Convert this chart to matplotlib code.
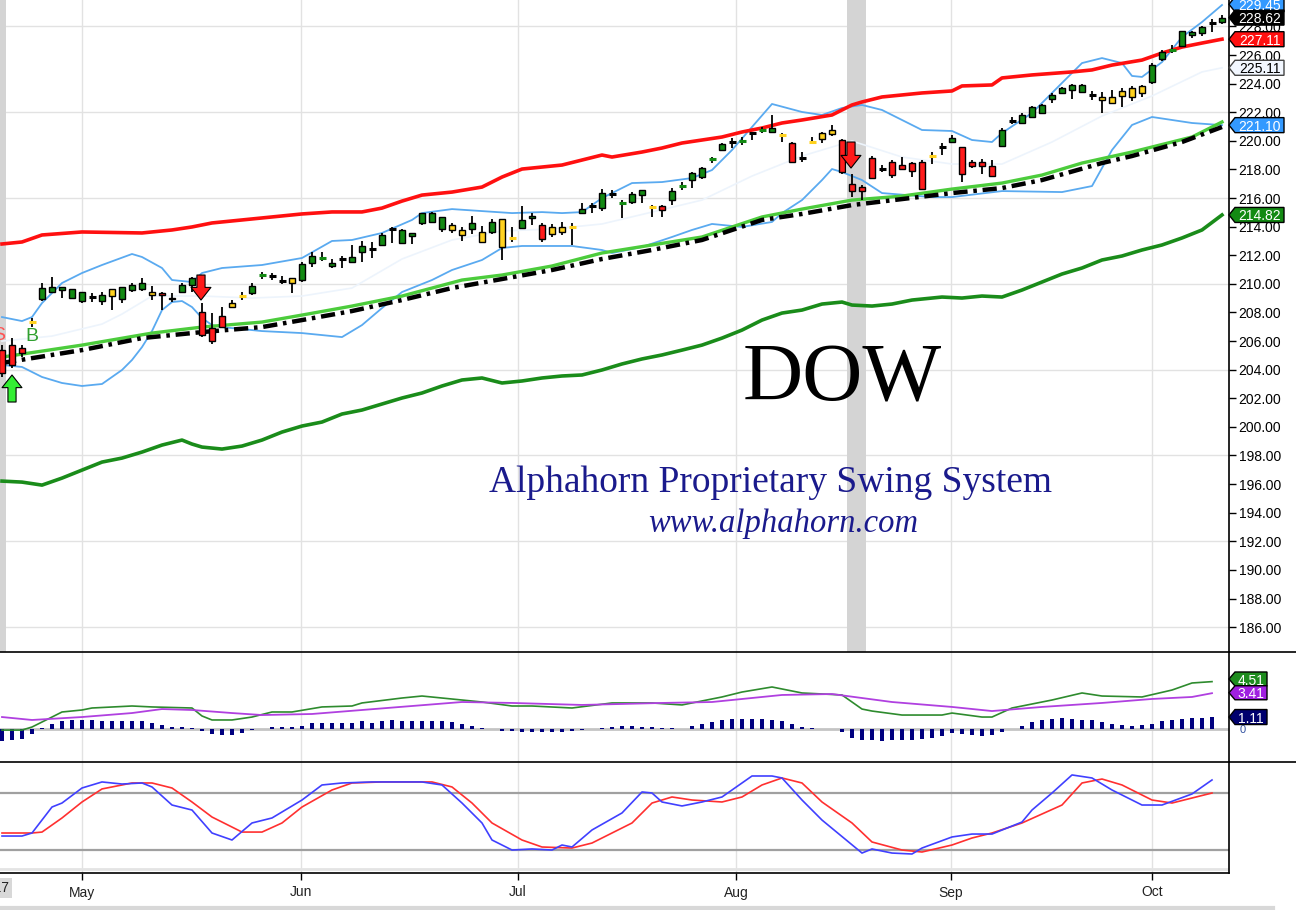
import matplotlib
matplotlib.use("Agg")
import matplotlib.pyplot as plt
import numpy as np
from matplotlib.patches import Rectangle, Polygon
from matplotlib.lines import Line2D
from matplotlib.transforms import blended_transform_factory

plt.rcParams["font.family"] = ["Liberation Sans", "DejaVu Sans"]

# ----------------------------------------------------------------------------
# Price bars (one per trading day, index 0 .. 122)

opens = [205.37, 205.72, 205.51, 207.30, 208.94, 209.43, 209.57, 209.01, 208.80, 209.08,
         208.80, 209.15, 208.94, 209.57, 209.64, 209.22, 209.36, 209.01, 209.43, 209.92,
         208.03, 206.91, 207.75, 208.38, 209.13, 209.36, 210.60, 210.55, 210.20, 210.06,
         210.27, 211.46, 211.79, 211.25, 211.72, 211.53, 212.23, 212.40, 212.72, 213.83,
         212.86, 213.35, 214.26, 214.33, 213.84, 213.77, 213.42, 213.84, 212.93, 213.63,
         212.58, 213.20, 213.91, 214.61, 214.12, 213.49, 213.63, 213.96, 214.96, 215.42,
         215.30, 216.27, 215.65, 215.72, 216.21, 215.35, 215.44, 215.86, 216.82, 217.26,
         217.47, 218.71, 219.36, 219.90, 219.97, 220.53, 220.74, 220.62, 220.39, 219.85,
         218.78, 219.90, 220.13, 220.48, 220.06, 216.98, 216.77, 218.80, 218.01, 218.52,
         218.31, 218.45, 218.52, 218.92, 219.55, 219.92, 219.57, 218.52, 218.52, 218.24,
         219.64, 221.37, 221.25, 221.67, 221.95, 222.93, 223.35, 223.56, 223.42, 223.19,
         222.86, 222.65, 223.14, 223.07, 223.35, 224.12, 225.72, 226.33, 226.63, 227.40,
         227.54, 228.22, 228.31]
highs = [205.72, 206.21, 205.72, 207.61, 210.06, 210.48, 209.80, 209.66, 209.45, 209.36,
         209.43, 209.66, 209.80, 210.06, 210.41, 209.85, 209.43, 209.36, 210.06, 210.48,
         208.66, 207.96, 208.38, 208.87, 209.43, 210.06, 210.83, 210.76, 210.55, 210.43,
         211.53, 212.23, 212.23, 211.74, 211.95, 212.72, 213.00, 212.93, 213.56, 213.98,
         213.84, 213.58, 214.98, 215.03, 214.70, 214.26, 213.98, 214.75, 214.05, 214.54,
         214.56, 213.98, 215.44, 214.96, 214.26, 214.19, 214.33, 214.26, 215.65, 215.65,
         216.63, 216.56, 215.86, 216.42, 216.58, 215.51, 215.51, 216.70, 217.12, 217.82,
         218.17, 218.87, 219.85, 220.20, 220.27, 220.62, 220.97, 221.81, 220.55, 219.92,
         219.22, 220.27, 220.62, 221.11, 220.13, 217.68, 216.91, 218.94, 218.31, 218.66,
         218.87, 218.52, 218.66, 219.22, 219.85, 220.41, 219.60, 218.66, 218.73, 218.66,
         220.90, 221.67, 221.95, 222.44, 222.58, 223.35, 223.77, 223.98, 223.98, 223.49,
         223.42, 223.56, 223.70, 223.84, 223.91, 225.44, 226.35, 226.70, 227.70, 227.68,
         228.03, 228.52, 228.80]
lows = [203.49, 204.12, 204.88, 206.98, 208.80, 209.36, 209.01, 208.94, 208.66, 208.73,
        208.52, 208.17, 208.66, 209.43, 209.50, 208.87, 208.17, 208.73, 209.36, 209.43,
        206.28, 205.79, 206.96, 208.36, 208.87, 209.22, 210.34, 210.27, 210.00, 209.36,
        210.13, 211.18, 211.60, 211.11, 211.11, 211.46, 211.53, 211.81, 212.70, 212.86,
        212.79, 212.79, 214.12, 214.26, 213.63, 213.56, 213.00, 213.49, 212.86, 213.49,
        211.67, 212.93, 213.84, 214.12, 212.93, 213.28, 213.42, 212.72, 214.94, 214.96,
        215.10, 216.00, 214.61, 215.58, 215.65, 214.68, 214.68, 215.51, 216.56, 216.70,
        217.33, 218.45, 219.29, 219.50, 219.71, 220.06, 220.55, 220.55, 219.92, 218.45,
        218.52, 219.85, 219.85, 220.34, 217.68, 216.07, 215.86, 217.33, 217.82, 217.40,
        217.96, 217.47, 216.56, 218.38, 219.01, 219.85, 217.12, 218.10, 217.68, 217.47,
        219.57, 221.18, 221.18, 221.60, 221.88, 222.65, 223.28, 222.93, 223.35, 222.86,
        221.95, 222.58, 222.37, 222.79, 223.07, 223.98, 225.58, 226.14, 226.56, 227.19,
        227.33, 227.61, 228.17]
closes = [203.77, 204.33, 205.16, 207.33, 209.71, 209.78, 209.78, 209.64, 209.43, 209.10,
          209.22, 209.64, 209.78, 209.92, 210.06, 209.43, 209.22, 208.94, 209.92, 210.41,
          206.42, 206.00, 206.98, 208.66, 209.15, 209.85, 210.62, 210.57, 210.22, 210.41,
          211.39, 211.95, 211.81, 211.46, 211.74, 211.88, 212.65, 212.42, 213.42, 213.85,
          213.77, 213.56, 214.96, 214.96, 214.68, 214.12, 213.77, 214.26, 213.63, 214.33,
          214.54, 213.22, 214.47, 214.75, 213.14, 213.98, 213.98, 213.98, 215.24, 215.44,
          216.35, 216.29, 215.67, 216.28, 216.56, 215.37, 215.16, 216.49, 216.84, 217.75,
          218.10, 218.73, 219.78, 219.92, 219.99, 220.55, 220.76, 220.90, 220.41, 218.52,
          218.80, 219.92, 220.55, 220.76, 217.82, 216.49, 216.49, 217.40, 218.03, 217.61,
          218.03, 217.89, 216.63, 218.94, 219.57, 220.20, 217.68, 218.24, 218.24, 217.54,
          220.76, 221.39, 221.81, 222.37, 222.51, 223.21, 223.70, 223.91, 223.91, 223.21,
          223.07, 223.07, 223.49, 223.70, 223.84, 225.30, 226.21, 226.35, 227.68, 227.61,
          227.96, 228.24, 228.62]
# g = up, r = down, y = neutral, k = plain doji (ten bars per string)
bar_colors = "".join([
    "rrrygggggk", "gygggyrrgg", "rrryyggkky", "ggggkggkgk", "gggggyygyg",
    "yyggryyygk", "gkgggyrggg", "gggkgkggyr", "kyyyrrrrkr", "rrrykgrrrr",
    "gkgggggggk", "yyyyyggggg", "gkg"])

month_names = ["May", "Jun", "Jul", "Aug", "Sep", "Oct"]
month_pos = [8.0, 29.9, 51.6, 73.4, 94.9, 115.0]

# ----------------------------------------------------------------------------
# Overlay lines (bar index, price)

env_up_x = [0, 2, 4, 8, 14, 17, 19, 21, 24, 27, 30, 33, 36, 38, 40, 42, 45, 48, 50, 52,
            56, 58, 60, 61, 64, 66, 68, 70, 72, 74, 76, 78, 80, 83, 85, 86, 88, 92, 95, 96,
            99, 100, 103, 107, 109, 111, 114, 116, 118, 120, 122]
env_up = [212.79, 212.93, 213.42, 213.63, 213.56, 213.77, 213.98, 214.26, 214.47, 214.68,
          214.89, 215.03, 215.03, 215.30, 215.79, 216.21, 216.42, 216.77, 217.47, 218.03,
          218.31, 218.66, 219.01, 218.87, 219.22, 219.50, 219.85, 220.06, 220.27, 220.62,
          220.90, 221.25, 221.46, 221.81, 222.51, 222.72, 223.07, 223.35, 223.49, 223.84,
          223.91, 224.40, 224.61, 224.82, 224.96, 225.30, 225.65, 226.14, 226.56, 226.84, 227.11]

env_lo_x = [0, 2, 4, 6, 8, 10, 12, 14, 16, 18, 19, 20, 22, 24, 26, 28, 30, 32, 34, 36,
            38, 40, 42, 44, 46, 48, 50, 52, 54, 56, 58, 60, 62, 64, 66, 68, 70, 72, 74, 76,
            78, 80, 82, 84, 85, 87, 89, 91, 94, 96, 98, 100, 102, 104, 106, 108, 110, 112,
            114, 116, 118, 120, 122]
env_lo = [196.21, 196.14, 195.93, 196.42, 196.98, 197.54, 197.82, 198.24, 198.73, 199.08,
          198.80, 198.59, 198.45, 198.66, 199.08, 199.64, 200.06, 200.34, 200.90, 201.18,
          201.60, 202.02, 202.37, 202.86, 203.28, 203.42, 203.07, 203.21, 203.42, 203.56,
          203.63, 203.98, 204.40, 204.75, 205.03, 205.37, 205.72, 206.21, 206.77, 207.47,
          207.96, 208.17, 208.59, 208.73, 208.52, 208.45, 208.59, 208.87, 209.08, 209.01,
          209.15, 209.08, 209.57, 210.13, 210.69, 211.11, 211.67, 211.95, 212.37, 212.72,
          213.21, 213.77, 214.82]

sma_x = [0, 8, 15, 20, 26, 30, 35, 40, 46, 50, 55, 60, 65, 70, 76, 80, 85, 90, 95, 100,
         104, 108, 113, 115, 119, 122]
sma = [204.88, 205.72, 206.56, 206.98, 207.33, 207.82, 208.45, 209.15, 210.27, 210.62,
       211.25, 212.16, 212.72, 213.28, 214.68, 215.23, 215.86, 216.14, 216.63, 217.05,
       217.61, 218.45, 219.22, 219.57, 220.27, 221.32]

slow_x = [0, 8, 14, 20, 26, 30, 35, 40, 45, 50, 55, 60, 65, 70, 76, 80, 85, 90, 95, 100,
          104, 110, 113, 118, 122]
slow = [204.47, 205.37, 206.21, 206.63, 206.98, 207.47, 208.10, 208.87, 209.71, 210.34,
        210.97, 211.74, 212.37, 213.07, 214.47, 214.89, 215.51, 215.93, 216.35, 216.70,
        217.26, 218.45, 218.94, 219.92, 220.97]

bb_up_x = [0, 2, 3, 4, 6, 8, 10, 13, 14, 16, 17, 19, 20, 22, 26, 30, 33, 35, 38, 41,
           42, 45, 48, 51, 54, 56, 58, 60, 62, 63, 66, 69, 71, 73, 75, 77, 80, 82, 84, 86,
           88, 90, 92, 95, 97, 99, 100, 103, 106, 108, 110, 112, 113, 114, 116, 118, 120, 122]
bb_up = [207.68, 207.40, 207.68, 208.66, 210.06, 210.76, 211.32, 212.09, 211.88, 211.11,
         210.27, 210.13, 210.76, 211.11, 211.32, 211.81, 213.00, 213.07, 213.56, 214.47,
         214.95, 215.23, 215.09, 214.95, 215.02, 214.95, 215.02, 216.00, 216.70, 217.05,
         217.12, 217.40, 217.96, 219.36, 220.97, 222.58, 222.02, 221.81, 222.30, 222.51,
         222.16, 221.46, 220.76, 220.69, 220.06, 219.92, 220.55, 221.95, 224.05, 225.44,
         225.79, 225.44, 224.54, 224.47, 225.51, 227.26, 228.31, 229.50]

bb_lo_x = [0, 2, 4, 6, 8, 10, 11, 12, 13, 14, 15, 16, 17, 18, 19, 20, 21, 22, 26, 30,
           33, 34, 36, 38, 40, 43, 45, 48, 50, 52, 57, 60, 61, 64, 67, 69, 71, 74, 77, 78,
           80, 82, 83, 84, 86, 88, 93, 95, 100, 106, 109, 111, 113, 115, 117, 119, 122]
bb_lo = [204.33, 204.19, 203.49, 203.07, 202.86, 203.00, 203.49, 203.98, 204.68, 205.58,
         206.70, 208.17, 208.73, 208.80, 208.38, 207.61, 207.12, 206.98, 206.70, 206.56,
         206.35, 206.28, 207.12, 208.31, 209.43, 210.27, 210.97, 211.67, 212.51, 212.65,
         212.65, 212.37, 212.16, 212.58, 213.28, 213.77, 214.19, 213.98, 214.33, 214.95,
         215.86, 217.26, 218.03, 217.82, 217.26, 216.35, 216.07, 216.07, 216.49, 216.42,
         216.84, 219.36, 221.11, 221.67, 221.46, 221.25, 221.10]

bb_mid_x = [0, 5, 10, 12, 15, 20, 25, 30, 35, 40, 45, 50, 55, 60, 65, 70, 75, 80, 85, 90,
            95, 100, 105, 110, 115, 120, 122]
bb_mid = [206.00, 206.35, 207.19, 207.89, 209.15, 209.15, 209.01, 209.15, 209.71, 211.74,
          213.07, 213.70, 213.84, 214.19, 215.02, 215.86, 217.54, 218.94, 219.99, 218.87,
          218.38, 218.38, 219.92, 221.74, 223.14, 224.82, 225.11]

# ----------------------------------------------------------------------------
# MACD panel

macd_x = [0, 2, 3, 5, 6, 8, 9, 13, 15, 19, 20, 21, 23, 25, 27, 29, 32, 35, 36, 40,
          42, 44, 48, 51, 53, 57, 61, 65, 68, 72, 74, 77, 80, 84, 86, 87, 90, 94, 95, 98,
          99, 101, 105, 108, 110, 114, 117, 119, 121]
macd = [-0.10, -0.10, 0.19, 1.14, 1.62, 1.81, 2.00, 2.19, 2.10, 2.00,
        1.24, 0.86, 0.86, 1.14, 1.62, 1.62, 2.10, 2.19, 2.48, 2.95,
        3.14, 2.95, 2.57, 2.19, 2.19, 2.00, 2.48, 2.48, 2.29, 3.05,
        3.52, 4.00, 3.43, 3.24, 1.90, 1.71, 1.33, 1.33, 1.52, 1.14,
        1.14, 2.00, 2.76, 3.43, 3.14, 3.05, 3.71, 4.38, 4.51]
signal_x = [0, 3, 8, 13, 16, 19, 23, 26, 31, 36, 41, 46, 51, 58, 66, 71, 78, 83, 89, 95,
            99, 104, 110, 115, 119, 121]
signal = [1.14, 0.86, 1.14, 1.52, 1.90, 1.81, 1.52, 1.33, 1.43, 1.81,
          2.19, 2.57, 2.48, 2.29, 2.48, 2.57, 3.24, 3.33, 2.57, 2.10,
          1.71, 2.10, 2.48, 2.86, 3.05, 3.41]
hist = [-1.17, -1.02, -0.95, -0.48, 0.05, 0.48, 0.73, 0.83, 0.83, 0.83,
        0.73, 0.73, 0.73, 0.73, 0.73, 0.57, 0.41, 0.19, 0.19, 0.10,
        -0.22, -0.48, -0.60, -0.54, -0.38, -0.13, 0.00, 0.16, 0.16, 0.16,
        0.32, 0.57, 0.57, 0.57, 0.57, 0.57, 0.73, 0.57, 0.73, 0.83,
        0.73, 0.80, 0.80, 0.80, 0.75, 0.65, 0.50, 0.25, 0.05, 0.00,
        -0.15, -0.20, -0.25, -0.25, -0.28, -0.28, -0.25, -0.20, -0.10, 0.00,
        0.10, 0.20, 0.25, 0.25, 0.20, 0.15, 0.10, 0.05, 0.00, 0.25,
        0.44, 0.67, 0.83, 0.95, 1.00, 1.00, 1.00, 0.90, 0.76, 0.50,
        0.19, 0.10, 0.00, 0.00, -0.29, -0.83, -1.08, -1.08, -1.14, -1.08,
        -1.08, -1.00, -0.92, -0.83, -0.70, -0.38, -0.50, -0.60, -0.70, -0.60,
        -0.29, 0.00, 0.25, 0.67, 0.90, 1.00, 1.08, 1.00, 0.90, 0.83,
        0.67, 0.44, 0.40, 0.25, 0.35, 0.50, 0.73, 0.86, 0.95, 1.02,
        1.06, 1.11]

# ----------------------------------------------------------------------------
# Stochastic panel

stk_x = [0, 2, 3, 5, 6, 8, 10, 12, 14, 15, 17, 19, 21, 23, 25, 27, 30, 32, 34, 37,
         42, 44, 46, 48, 49, 51, 53, 55, 56, 57, 59, 62, 64, 65, 66, 68, 70, 72, 75, 77,
         78, 80, 82, 86, 87, 89, 91, 92, 95, 97, 99, 102, 103, 105, 107, 109, 111, 114, 116, 119,
         121]
stk_k = [34.8, 34.8, 38.0, 65.5, 69.7, 85.6, 92.0, 89.8, 90.9, 86.7,
         67.6, 62.3, 38.0, 30.6, 48.6, 53.9, 72.9, 88.8, 90.9, 92.0,
         92.0, 88.8, 69.7, 48.6, 30.6, 20.0, 21.1, 20.0, 25.3, 23.2,
         41.2, 59.2, 81.4, 80.3, 70.8, 66.6, 70.8, 76.1, 98.3, 98.3,
         96.2, 72.9, 51.7, 16.8, 21.1, 16.8, 15.8, 22.1, 33.8, 36.9,
         36.9, 49.6, 62.3, 80.3, 99.4, 96.2, 83.5, 67.6, 67.6, 79.3,
         94.1]
stk_d_x = [0, 3, 4, 6, 8, 10, 13, 15, 17, 19, 21, 24, 26, 28, 30, 33, 35, 38, 43, 45,
           47, 49, 52, 54, 57, 59, 63, 65, 67, 69, 72, 74, 76, 78, 80, 82, 85, 87, 90, 92,
           95, 97, 99, 102, 106, 108, 110, 112, 115, 117, 119, 121]
stk_d = [38.0, 38.0, 39.0, 53.9, 70.8, 84.6, 90.9, 90.9, 85.6, 70.8,
         54.9, 39.0, 39.0, 48.6, 65.5, 83.5, 90.9, 92.0, 92.0, 86.7,
         69.7, 48.6, 30.6, 23.2, 22.1, 27.4, 48.6, 69.7, 76.1, 72.9,
         70.8, 76.1, 88.8, 96.2, 90.9, 70.8, 48.6, 28.5, 20.0, 17.9,
         25.3, 32.7, 38.0, 48.6, 67.6, 90.9, 95.1, 88.8, 72.9, 69.7,
         75.0, 80.3]

# ----------------------------------------------------------------------------

W, H = 1296, 910
AX_R = 1229
XLIM = (-0.2, 122.7)
GRID = "#e2e2e2"
NAVY = "#1a1a8c"
COL = {"g": "#138a13", "r": "#ff1c1c", "y": "#ffd21f", "k": "black"}

fig = plt.figure(figsize=(W / 100, H / 100), dpi=100)


def box(top, bottom):
    return [0, 1 - bottom / H, AX_R / W, (bottom - top) / H]


ax = fig.add_axes(box(0, 652))
ax2 = fig.add_axes(box(652, 762))
ax3 = fig.add_axes(box(762, 873))

for a in (ax, ax2, ax3):
    a.set_xlim(*XLIM)
    a.set_xticks([])
    for s in ("top", "left", "bottom"):
        a.spines[s].set_visible(False)
    a.spines["right"].set_linewidth(1.2)
    for m in month_pos:
        a.axvline(m, color=GRID, lw=1, zorder=0)

ax.set_ylim(184.26, 229.85)
ax2.set_ylim(-3.14, 7.33)
ax3.set_ylim(-4.3, 113.1)

# main panel ---------------------------------------------------------------
for lvl in range(186, 230, 6):
    ax.axhline(lvl, color=GRID, lw=1, zorder=0)

ax.axvspan(-0.5, 0.4, color="#d4d4d4", lw=0, zorder=0.5)
ax.axvspan(84.5, 86.4, color="#d4d4d4", lw=0, zorder=0.5)

ax.plot(bb_mid_x, bb_mid, color="#edf4fc", lw=1.2, zorder=2)
ax.plot(bb_up_x, bb_up, color="#5aaaf0", lw=1.3, zorder=3)
ax.plot(bb_lo_x, bb_lo, color="#5aaaf0", lw=1.3, zorder=3)
ax.plot(env_up_x, env_up, color="#ff1010", lw=2.6, zorder=3)
ax.plot(env_lo_x, env_lo, color="#1a8c1a", lw=2.6, zorder=3)
ax.plot(sma_x, sma, color="#4ccc3c", lw=2.4, zorder=3)
ax.plot(slow_x, slow, color="black", lw=3.2, ls=(0, (3.2, 1.3, 0.8, 1.3)), zorder=3.5)

for i in range(len(opens)):
    c = COL[bar_colors[i]]
    ax.vlines(i, lows[i], highs[i], color="black", lw=1.3, zorder=5)
    lo, hi = min(opens[i], closes[i]), max(opens[i], closes[i])
    if hi - lo < 0.05:
        ax.hlines((lo + hi) / 2, i - 0.35, i + 0.35, color=c, lw=2.2, zorder=6)
    else:
        ax.add_patch(Rectangle((i - 0.34, lo), 0.68, hi - lo, fc=c, ec="black",
                               lw=1.0, zorder=6))

arrow = "simple,head_width=1.1,head_length=0.7,tail_width=0.45"
for x0, y_tail, y_tip, fc in [(19.9, 210.62, 208.87, "#ff1a1a"),
                              (84.9, 219.92, 218.10, "#ff1a1a"),
                              (1.0, 201.74, 203.63, "#33ee33")]:
    ax.annotate("", xy=(x0, y_tip), xytext=(x0, y_tail), zorder=8,
                arrowprops=dict(arrowstyle=arrow, fc=fc, ec="black", lw=0.8,
                                mutation_scale=13, shrinkA=0, shrinkB=0))

ax.text(-0.3, 206.42, "S", color="#ff5555", fontsize=14, ha="center", va="center", zorder=8)
ax.text(3.0, 206.35, "B", color="#30a030", fontsize=14, ha="center", va="center", zorder=8)

ax.yaxis.tick_right()
ax.set_yticks(np.arange(186, 229, 2))
ax.set_yticklabels(["%.2f" % v for v in np.arange(186, 229, 2)], fontsize=10)
ax.tick_params(axis="y", length=5, width=1, pad=2, colors="black")


def tag(a, val, txt, fc, tc, ppu, w=55, h=15, ec="black", fs=10):
    tr = blended_transform_factory(a.transAxes, a.transData)
    hh = h / 2 / ppu
    pts = [(1.0, val), (1 + 6 / AX_R, val + hh), (1 + w / AX_R, val + hh),
           (1 + w / AX_R, val - hh), (1 + 6 / AX_R, val - hh)]
    a.add_patch(Polygon(pts, closed=True, transform=tr, fc=fc, ec=ec, lw=1,
                        clip_on=False, zorder=10))
    a.text(1 + (w + 6) / 2 / AX_R, val, txt, transform=tr, ha="center",
           va="center_baseline", color=tc, fontsize=fs, zorder=11, clip_on=False)


tag(ax, 229.55, "229.45", "#3399ff", "white", 14.3)
tag(ax, 228.62, "228.62", "black", "white", 14.3)
tag(ax, 227.11, "227.11", "#ff1010", "white", 14.3)
tag(ax, 225.11, "225.11", "#f2f7ff", "black", 14.3, ec="#444444")
tag(ax, 221.10, "221.10", "#3399ff", "white", 14.3)
tag(ax, 214.82, "214.82", "#138a13", "white", 14.3)

fig.text(842 / W, 1 - 400 / H, "DOW", family="Liberation Serif", fontsize=60,
         ha="center", va="baseline", color="black")
fig.text(771 / W, 1 - 492 / H, "Alphahorn Proprietary Swing System",
         family="Liberation Serif", fontsize=27, ha="center", va="baseline", color=NAVY)
fig.text(783 / W, 1 - 532 / H, "www.alphahorn.com", family="Liberation Serif",
         style="italic", fontsize=23.5, ha="center", va="baseline", color=NAVY)

# MACD panel ---------------------------------------------------------------
ax2.axhline(0, color="#c4c4c4", lw=2, zorder=1)
ax2.bar(range(len(hist)), hist, width=0.35, color="#00007f", zorder=3)
ax2.plot(macd_x, macd, color="#2e8b2e", lw=1.2, zorder=4)
ax2.plot(signal_x, signal, color="#b040e0", lw=1.3, zorder=4)
ax2.yaxis.tick_right()
ax2.set_yticks([0])
ax2.set_yticklabels(["0"], fontsize=8, color="#3050a0")
ax2.tick_params(axis="y", length=0, pad=8)
tag(ax2, 4.76, "4.51", "#1e8c1e", "white", 10.5, w=38, h=14)
tag(ax2, 3.45, "3.41", "#a020e0", "white", 10.5, w=38, h=14)
tag(ax2, 1.14, "1.11", "#00006e", "white", 10.5, w=38, h=15)

# Stochastic panel ---------------------------------------------------------
ax3.axhline(80, color="#a0a0a0", lw=1.6, zorder=1)
ax3.axhline(20, color="#a0a0a0", lw=1.6, zorder=1)
ax3.axhline(0, color="#e4e4e4", lw=2, zorder=1)
ax3.plot(stk_d_x, stk_d, color="#ff3030", lw=1.2, zorder=3)
ax3.plot(stk_x, stk_k, color="#4040ff", lw=1.2, zorder=4)
ax3.set_yticks([])
ax3.spines["bottom"].set_visible(True)
ax3.spines["bottom"].set_linewidth(1.2)
ax3.set_xticks(month_pos)
ax3.set_xticklabels(month_names, fontsize=10, color="#222222")
ax3.tick_params(axis="x", length=5, width=1, pad=4)

# panel separators across the full width
for yy in (652, 762):
    fig.add_artist(Line2D([0, 1], [1 - yy / H, 1 - yy / H], color="black", lw=1.2))
fig.add_artist(Line2D([0, 1273 / W], [1 - 908 / H, 1 - 908 / H], color="#d8d8d8", lw=3))
fig.text(9 / W, 1 - 888 / H, "2017", fontsize=10, ha="right", va="center", color="#222222",
         bbox=dict(fc="#d8d8d8", ec="none", pad=2))

fig.savefig("out.png", dpi=100)
